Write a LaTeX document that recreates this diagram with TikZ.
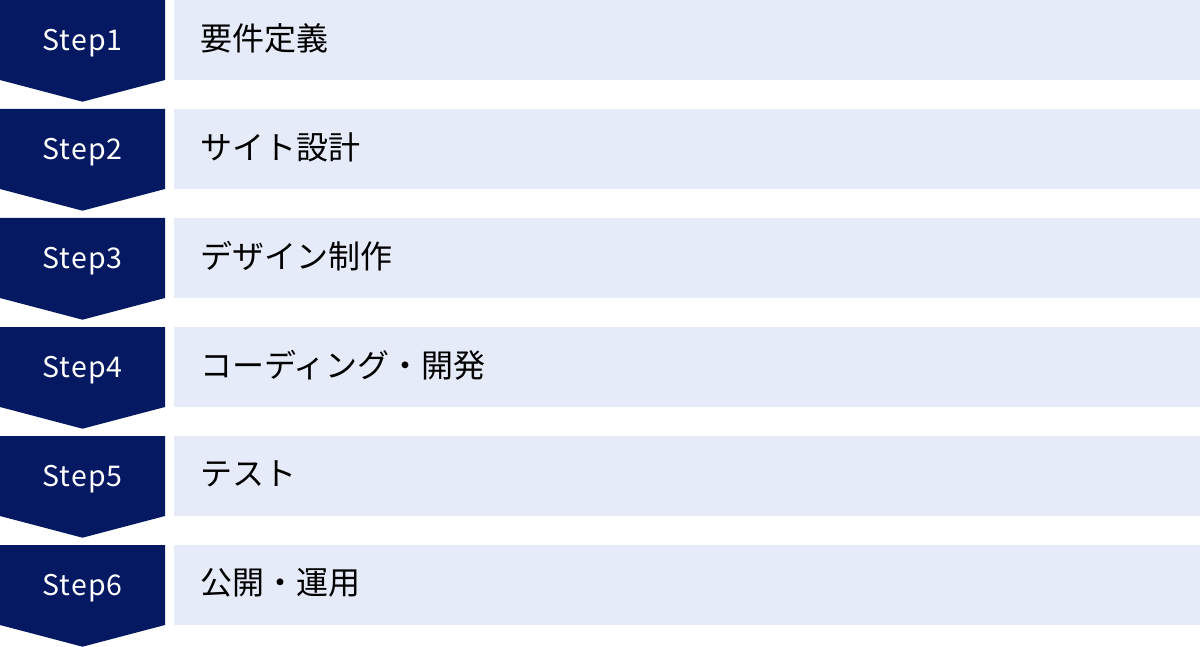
\documentclass[tikz,border=0pt]{standalone}
\usepackage{fontspec}
\setmainfont{Noto Sans CJK JP}
\newfontfamily\stepfont[LetterSpace=4]{Noto Sans CJK JP}
\definecolor{navy}{HTML}{051963}
\definecolor{pale}{HTML}{E5EBF8}
\tikzset{
  stepshape/.style={fill=navy, draw=none},
  bar/.style={fill=pale, draw=none, rectangle, inner sep=0pt, anchor=north west, minimum width=1026pt, minimum height=80pt},
  steplabel/.style={text=white, inner sep=0pt, font=\stepfont\fontsize{28.5}{28.5}\selectfont},
  tasklabel/.style={text=black, inner sep=0pt, anchor=west, font=\fontsize{32}{32}\selectfont}
}
\begin{document}
\begin{tikzpicture}[x=1pt,y=-1pt]
\useasboundingbox (0,0) rectangle (1200,647);
\foreach \i/\t in {0/要件定義,1/サイト設計,2/デザイン制作,3/コーディング・開発,4/テスト,5/公開・運用}{
  \pgfmathsetmacro{\T}{109*\i}
  \pgfmathtruncatemacro{\n}{\i+1}
  \fill[stepshape] (0,\T) -- (165,\T) -- (165,\T+80) -- (82.5,\T+101.7) -- (0,\T+80) -- cycle;
  \node[bar] (r\n) at (174,\T) {};
  \node[steplabel] (s\n) at (82.5,\T+43.5) {Step\n};
  \node[tasklabel] (t\n) at (200,\T+38) {\t};
}
\end{tikzpicture}
\end{document}
